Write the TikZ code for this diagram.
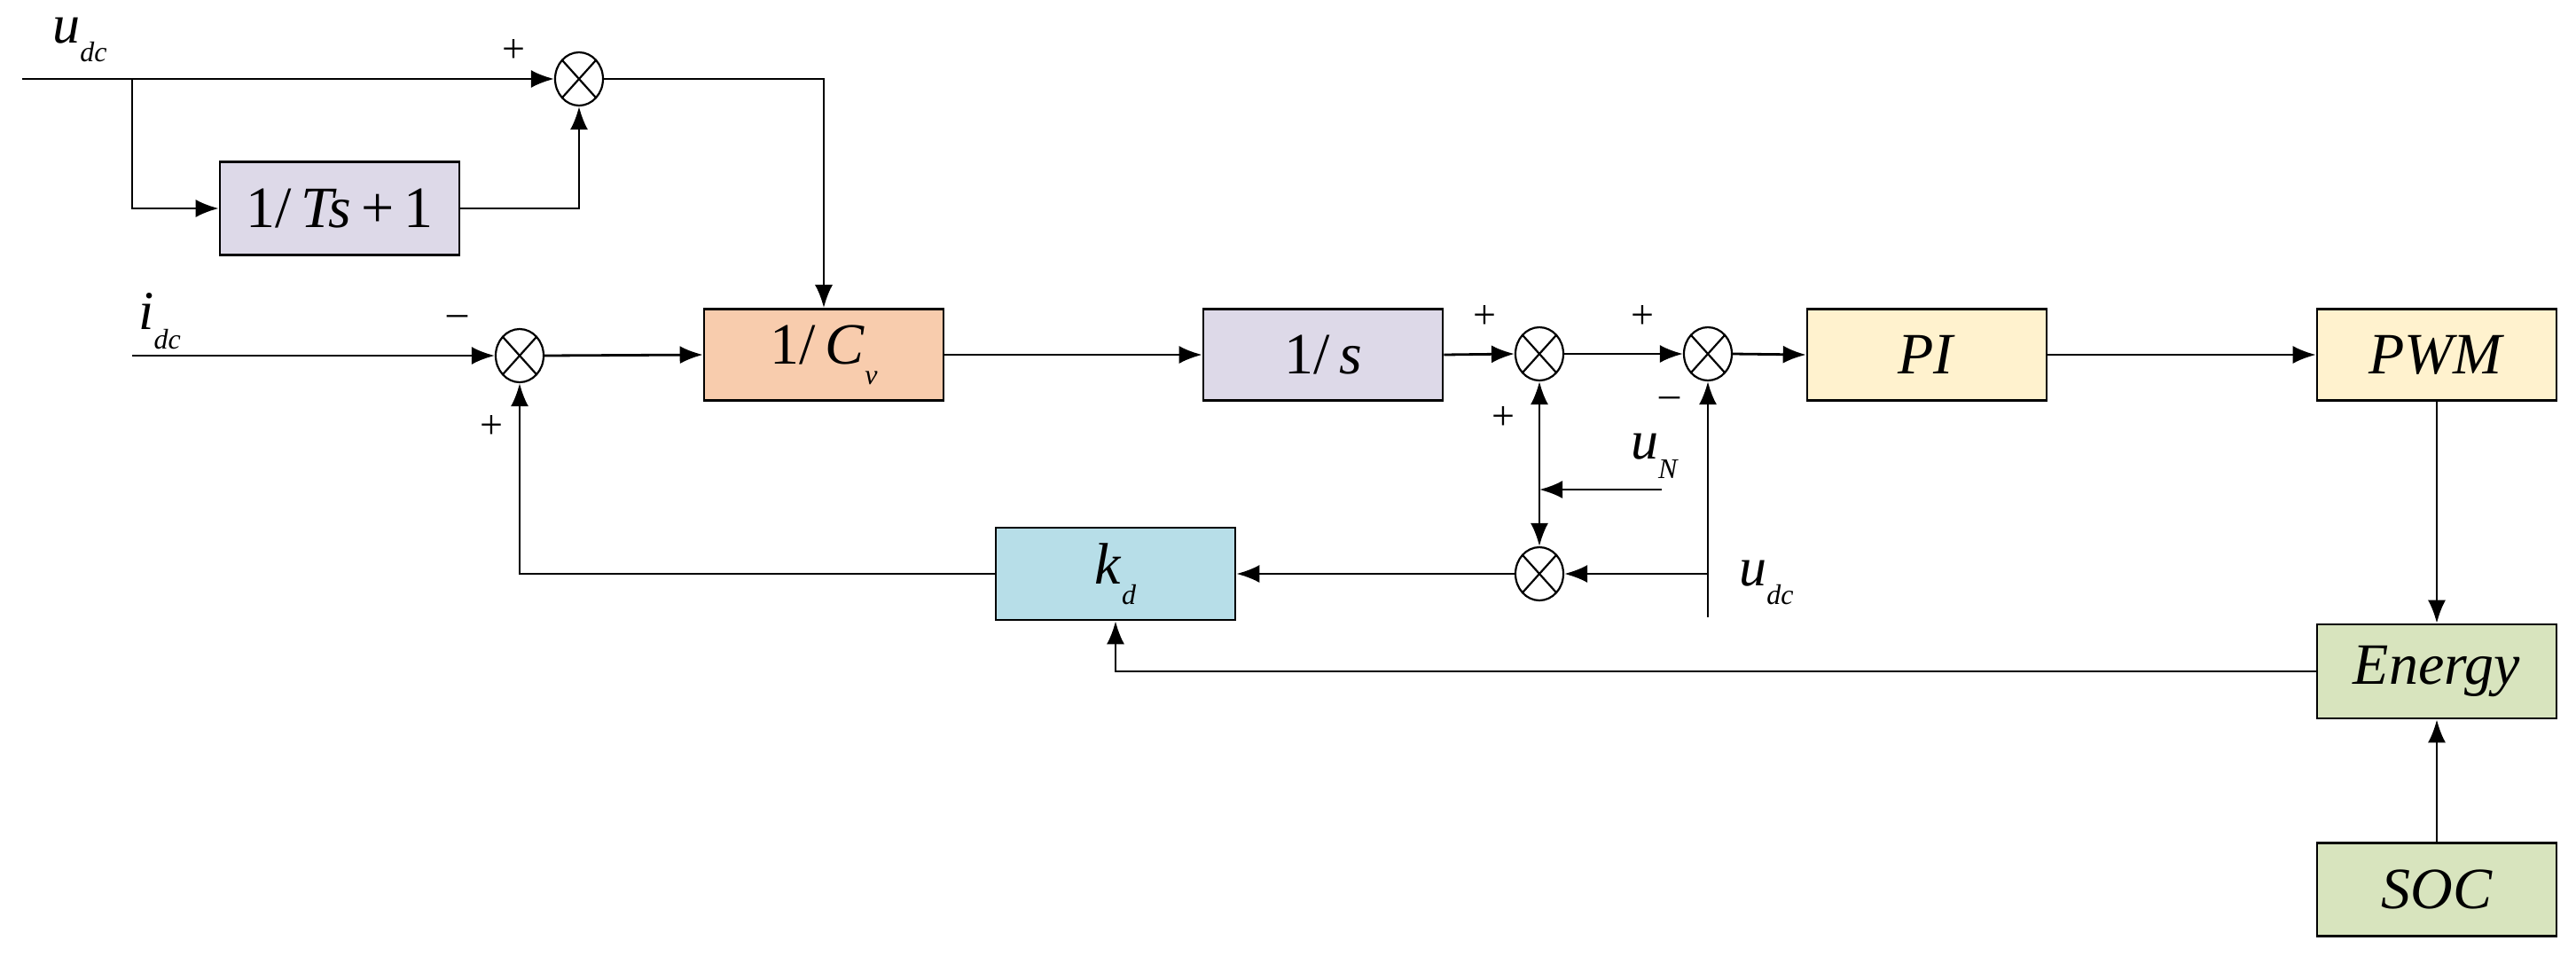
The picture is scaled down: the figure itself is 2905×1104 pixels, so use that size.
\documentclass[tikz,border=0pt]{standalone}
\usepackage{fontspec}
\setmainfont{Liberation Serif}
\usetikzlibrary{arrows.meta,shapes.geometric}
\definecolor{lav}{RGB}{221,217,232}
\definecolor{peach}{RGB}{248,204,173}
\definecolor{ylw}{RGB}{255,242,206}
\definecolor{blu}{RGB}{183,222,232}
\definecolor{grn}{RGB}{216,228,190}
\newcommand{\sbs}[2]{\textit{#1}\raisebox{-0.35em}{\fontsize{32}{36}\selectfont\textit{#2}}}
\begin{document}
\begin{tikzpicture}[x=1pt,y=-1pt,line width=2.8pt,
  >={Latex[length=26pt,width=20pt]},
  blk/.style={draw,line width=2.6pt,minimum width=270pt,minimum height=103pt,inner sep=0pt,font=\fontsize{66}{72}\selectfont},
  sum/.style={draw,ellipse,line width=2.2pt,minimum width=54pt,minimum height=60pt,inner sep=0pt,
    path picture={\draw[line width=2.2pt] (path picture bounding box.north west)--(path picture bounding box.south east)
      (path picture bounding box.north east)--(path picture bounding box.south west);}},
  lbl/.style={font=\fontsize{46}{50}\selectfont},
  sig/.style={font=\fontsize{62}{66}\selectfont}]
\useasboundingbox (0,0) rectangle (2905,1104);
\fill[white] (0,0) rectangle (2905,1104);
% blocks
\node[blk,fill=lav,minimum height=105pt] (ts) at (383,235) {1/\,\textit{Ts}\,+\,1};
\node[blk,fill=peach] (cv) at (929,400) {1/\,\sbs{C}{v}};
\node[blk,fill=lav] (s) at (1492,400) {1/\,\textit{s}};
\node[blk,fill=ylw] (pi) at (2173,400) {\textit{PI}};
\node[blk,fill=ylw] (pwm) at (2748,400) {\textit{PWM}};
\node[blk,fill=blu,minimum height=104pt] (kd) at (1258,647) {\sbs{k}{d}};
\node[blk,fill=grn,minimum height=106pt] (en) at (2748,757) {\textit{Energy}};
\node[blk,fill=grn,minimum height=105pt] (soc) at (2748,1003) {\textit{SOC}};
% sums
\node[sum] (s1) at (653,89) {};
\node[sum] (s2) at (586,401) {};
\node[sum] (s3) at (1736,399) {};
\node[sum] (s4) at (1926,399) {};
\node[sum] (s5) at (1736,647) {};
% coordinates
\coordinate (uin) at (25,89);
\coordinate (br) at (149,89);
\coordinate (iin) at (149,401);
\coordinate (un) at (1874,552);
\coordinate (uj) at (1736,552);
\coordinate (ud) at (1926,696);
\coordinate (udj) at (1926,647);
% connectors
\draw[->] (uin) -- (s1.west);
\draw[->] (br) |- (ts.west);
\draw[->] (ts.east) -| (s1.south);
\draw[->] (s1.east) -| (cv.north);
\draw[->] (iin) -- (s2.west);
\draw[->] (s2.east) -- (cv.west);
\draw[->] (cv.east) -- (s.west);
\draw[->] (s.east) -- (s3.west);
\draw[->] (s3.east) -- (s4.west);
\draw[->] (s4.east) -- (pi.west);
\draw[->] (pi.east) -- (pwm.west);
\draw[->] (pwm.south) -- (en.north);
\draw[->] (soc.north) -- (en.south);
\draw[->] (un) -- (uj);
\draw[->] (uj) -- (s3.south);
\draw[->] (uj) -- (s5.north);
\draw[->] (ud) -- (s4.south);
\draw[->] (udj) -- (s5.east);
\draw[->] (s5.west) -- (kd.east);
\draw[->] (kd.west) -| (s2.south);
\draw[->] (en.west) -| (kd.south);
% labels
\node[sig] at (90,45) {\sbs{u}{dc}};
\node[sig] at (180,362) {\sbs{i}{dc}};
\node[sig] at (1866,514) {\sbs{u}{N}};
\node[sig] at (1992,657) {\sbs{u}{dc}};
\node[lbl] at (579,58) {+};
\node[lbl] at (516,362) {\textendash};
\node[lbl] at (554,481) {+};
\node[lbl] at (1674,357) {+};
\node[lbl] at (1852,357) {+};
\node[lbl] at (1695,471) {+};
\node[lbl] at (1883,454) {\textendash};
\end{tikzpicture}
\end{document}
